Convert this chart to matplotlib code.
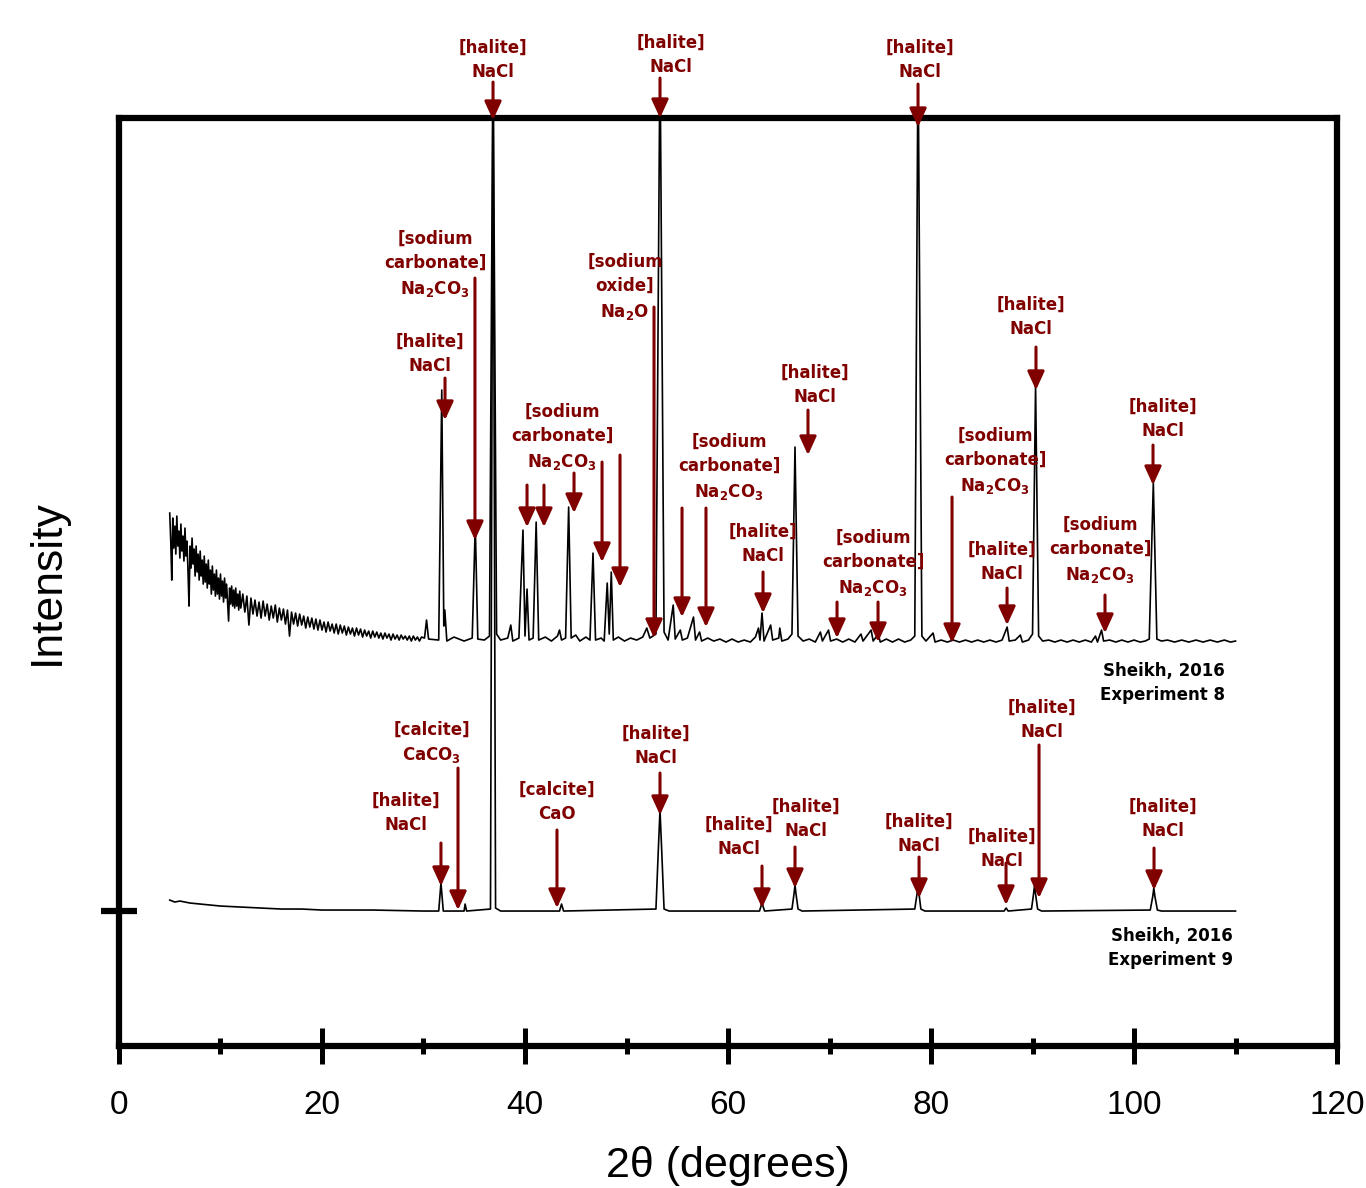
import matplotlib
matplotlib.use('Agg')
import matplotlib.pyplot as plt
from matplotlib.ticker import MultipleLocator

# XRD patterns (2theta in degrees, intensity in arbitrary units)
exp8_deg = [5.0, 5.1, 5.2, 5.3, 5.4, 5.5, 5.6, 5.7, 5.8, 5.9, 6.0, 6.1, 6.2, 6.3, 6.4, 6.5,
            6.6, 6.7, 6.8, 6.9, 7.0, 7.1, 7.2, 7.3, 7.4, 7.5, 7.6, 7.7, 7.8, 7.9, 8.0, 8.1,
            8.2, 8.3, 8.4, 8.5, 8.6, 8.7, 8.8, 8.9, 9.0, 9.1, 9.2, 9.3, 9.4, 9.5, 9.6, 9.7,
            9.8, 9.9, 10.0, 10.1, 10.2, 10.3, 10.4, 10.5, 10.6, 10.8, 10.9, 11.0, 11.1, 11.2,
            11.3, 11.4, 11.5, 11.6, 11.7, 11.8, 11.9, 12.0,
            12.2, 12.4, 12.6, 12.8, 13.0, 13.2, 13.4, 13.6, 13.8, 14.0, 14.2, 14.4, 14.6,
            14.8, 15.0, 15.2, 15.4, 15.6, 15.8, 16.0, 16.2, 16.4, 16.6, 16.8, 17.0, 17.2,
            17.4, 17.6, 17.8, 18.0, 18.2, 18.4, 18.6, 18.8, 19.0, 19.2, 19.4, 19.6, 19.8,
            20.0, 20.2, 20.4, 20.6, 20.8, 21.0, 21.2, 21.4, 21.6, 21.8, 22.0, 22.2, 22.4,
            22.6, 22.8, 23.0, 23.2, 23.4, 23.6, 23.8, 24.0, 24.2, 24.4, 24.6, 24.8, 25.0,
            25.2, 25.4, 25.6, 25.8, 26.0, 26.2, 26.4, 26.6, 26.8, 27.0, 27.2, 27.4, 27.6,
            27.8, 28.0, 28.2, 28.4, 28.6, 28.8, 29.0, 29.2, 29.4, 29.6, 29.8,
            30.1, 30.3, 30.5, 31.5, 31.8, 32.0, 32.1, 32.3, 33.0, 34.0, 34.8, 35.1, 35.35,
            36.0, 36.5, 36.85, 37.2, 37.6, 38.3, 38.6, 38.8, 39.4, 39.8, 40.0, 40.2, 40.4,
            40.8, 41.1, 41.35, 42.0, 42.6, 43.2, 43.4, 43.6, 44.0, 44.3, 44.55, 45.0, 45.4,
            46.0, 46.4, 46.7, 46.95, 47.5, 47.8, 48.1, 48.3, 48.5, 48.7, 49.2, 49.8, 50.4,
            51.0, 51.6, 52.0, 52.3, 52.9, 53.3, 53.7, 54.1, 54.6, 54.8, 55.3, 55.5, 56.0,
            56.6, 56.8, 57.2, 57.4, 58.0, 58.6, 59.2, 59.8, 60.4, 61.0, 61.6, 62.2, 62.7,
            63.0, 63.15, 63.35, 63.55, 64.2, 64.4, 65.0, 65.1, 65.3, 65.9, 66.3, 66.6, 66.9,
            67.4, 68.0, 68.6, 69.1, 69.3, 69.9, 70.1, 70.7, 71.3, 71.9, 72.5, 73.1, 73.3,
            74.1, 74.3, 74.8, 75.0, 75.6, 76.2, 76.8, 77.4, 78.0, 78.4, 78.72, 79.1, 79.5,
            80.2, 80.4, 81.0, 81.6, 82.2, 82.8, 83.4, 84.0, 84.6, 85.2, 85.8, 86.4, 87.0,
            87.5, 87.7, 88.3, 88.8, 89.0, 89.6, 90.0, 90.3, 90.6, 91.0, 91.6, 92.2, 92.8,
            93.4, 94.0, 94.6, 95.2, 95.8, 96.2, 96.4, 96.8, 97.0, 97.6, 98.2, 98.8, 99.4,
            100.0, 100.6, 101.1, 101.5, 101.9, 102.25, 102.7, 103.3, 104.0, 104.7, 105.4,
            106.1, 106.8, 107.5, 108.2, 108.9, 109.5, 110.0]
exp8_int = [533, 505, 466, 528, 498, 520, 492, 530, 500, 515, 488, 522, 495, 510, 485, 518,
            490, 505, 475, 440, 500, 478, 508, 482, 497, 470, 500, 474, 492, 466, 495, 470,
            486, 462, 490, 464, 482, 458, 486, 462, 476, 452, 480, 456, 472, 450, 476, 452,
            468, 447, 472, 450, 465, 444, 468, 448, 462, 425, 458, 442, 460, 440,
            456, 438, 458, 440, 452, 436, 455, 438,
            452, 434, 450, 421, 448, 432, 446, 430, 444, 428, 445, 430, 442,
            426, 440, 428, 441, 424, 438, 426, 437, 422, 436, 410, 434, 422,
            433, 420, 432, 421, 430, 418, 429, 419, 428, 417, 427, 416, 426,
            416, 424, 414, 424, 415, 422, 413, 422, 412, 421, 413, 420, 411,
            419, 412, 418, 410, 418, 411, 417, 409, 416, 410, 415, 408, 415,
            409, 414, 408, 413, 407, 413, 408, 412, 406, 412, 407, 411, 406,
            411, 407, 410, 406, 410, 405, 410, 406, 409, 405, 409,
            408, 426, 407, 406, 656, 420, 436, 405, 409, 405, 408, 521, 407,
            406, 410, 1000, 412, 406, 408, 421, 405, 408, 516, 410, 457, 406,
            408, 524, 406, 409, 405, 410, 416, 406, 408, 539, 408, 411, 405,
            409, 406, 493, 406, 408, 405, 463, 412, 474, 406, 409, 405, 408,
            406, 409, 418, 408, 412, 1000, 414, 406, 441, 407, 416, 406, 408,
            429, 406, 414, 405, 408, 405, 407, 404, 407, 404, 406, 404, 409,
            418, 406, 433, 405, 421, 406, 408, 418, 405, 407, 412, 599, 410,
            405, 407, 404, 414, 405, 416, 405, 407, 404, 407, 404, 412, 405,
            416, 405, 412, 404, 407, 404, 407, 404, 406, 410, 1000, 410, 405,
            413, 404, 406, 404, 406, 404, 406, 404, 406, 404, 406, 404, 406,
            419, 405, 406, 411, 404, 406, 412, 661, 410, 405, 406, 404, 406,
            404, 406, 404, 406, 404, 410, 404, 416, 405, 406, 404, 406, 404,
            406, 404, 405, 407, 563, 407, 405, 406, 404, 406, 404,
            406, 404, 406, 404, 406, 404, 405]

exp9_deg = [5.0, 5.5, 6.0, 7.0, 8.0, 9.0, 10.0, 12.0, 14.0, 16.0, 18.0, 20.0, 25.0, 30.0,
            31.5, 31.72, 31.95, 33.0, 34.0, 34.1, 34.25, 36.6, 36.85, 37.1, 37.6,
            43.4, 43.6, 43.8, 52.9, 53.15, 53.3, 53.45, 53.7, 54.2, 63.1, 63.35, 63.6,
            66.3, 66.5, 66.6, 66.7, 66.9, 67.3, 78.4, 78.62, 78.72, 78.82, 79.0, 79.4,
            87.2, 87.4, 87.6, 89.9, 90.1, 90.2, 90.3, 90.5, 90.9,
            101.6, 101.85, 101.95, 102.05, 102.3, 102.7, 110.0]
exp9_int = [146, 144, 145, 143, 142, 141, 140, 139, 138, 137, 137, 136, 136, 135,
            135, 163, 135, 135, 135, 142, 135, 137, 1000, 138, 135,
            135, 142, 135, 137, 200, 236, 200, 137, 135, 135, 143, 135,
            137, 152, 161, 152, 137, 135, 137, 152, 161, 152, 137, 135,
            135, 138, 135, 137, 152, 161, 152, 137, 135,
            136, 150, 158, 150, 136, 135, 135]

# phase labels: text, label centre (deg, intensity), arrows (deg, tail, tip)
NACL = '[halite]\nNaCl'
NA2CO3 = '[sodium\ncarbonate]\nNa$_\\mathbf{2}$CO$_\\mathbf{3}$'
labels = [
    (NACL, 36.85, 986, [(36.85, 964, 926)]),
    (NACL, 54.38, 991, [(53.30, 968, 928)]),
    (NACL, 78.92, 986, [(78.72, 962, 919)]),
    (NA2CO3, 31.13, 782, [(35.07, 768, 506)]),
    (NACL, 30.64, 692, [(32.12, 668, 626)]),
    ('[sodium\noxide]\nNa$_\\mathbf{2}$O', 49.85, 759, [(52.71, 739, 408)]),
    (NA2CO3, 43.65, 609, [(40.20, 561, 519), (41.87, 561, 519), (44.83, 573, 533),
                          (47.59, 584, 484), (49.36, 591, 459)]),
    (NA2CO3, 60.10, 579, [(55.47, 538, 429), (57.83, 538, 419)]),
    (NACL, 63.45, 502, [(63.45, 474, 433)]),
    (NACL, 68.57, 661, [(67.88, 636, 591)]),
    (NA2CO3, 74.29, 483, [(70.74, 444, 408), (74.78, 444, 404)]),
    (NA2CO3, 86.31, 585, [(82.07, 549, 403)]),
    (NACL, 87.00, 484, [(87.49, 458, 421)]),
    (NACL, 89.85, 729, [(90.34, 699, 656)]),
    (NA2CO3, 96.65, 496, [(97.14, 451, 413)]),
    (NACL, 102.86, 627, [(101.87, 601, 561)]),
    ('[calcite]\nCaCO$_\\mathbf{3}$', 30.84, 303, [(33.40, 278, 136)]),
    (NACL, 28.28, 233, [(31.72, 203, 160)]),
    ('[calcite]\nCaO', 43.15, 244, [(43.15, 216, 138)]),
    (NACL, 52.91, 300, [(53.30, 273, 231)]),
    (NACL, 61.08, 209, [(63.35, 180, 138)]),
    (NACL, 67.68, 227, [(66.60, 199, 158)]),
    (NACL, 78.82, 212, [(78.82, 189, 148)]),
    (NACL, 87.00, 197, [(87.39, 183, 141)]),
    (NACL, 90.94, 326, [(90.64, 301, 148)]),
    (NACL, 102.86, 227, [(101.97, 198, 156)]),
]

red = '#800000'
plt.rcParams['font.family'] = ['Liberation Sans', 'DejaVu Sans']

fig = plt.figure(figsize=(13.66, 11.88), dpi=100)
ax = fig.add_axes([0.0871, 0.1195, 0.8917, 0.7811])

ax.plot(exp8_deg, exp8_int, color='black', lw=1.2)
ax.plot(exp9_deg, exp9_int, color='black', lw=1.2)

for text, lx, ly, arrows in labels:
    ax.text(lx, ly, text, color=red, fontsize=12, fontweight='bold', family='DejaVu Sans',
            ha='center', va='center', linespacing=1.45, clip_on=False)
    for ax_x, tail, tip in arrows:
        ax.annotate('', xy=(ax_x, tip), xytext=(ax_x, tail), annotation_clip=False,
                    arrowprops=dict(arrowstyle='-|>,head_length=0.7,head_width=0.32',
                                    color=red, lw=2.2, shrinkA=0, shrinkB=0,
                                    mutation_scale=16))

ax.text(108.97, 363, 'Sheikh, 2016\nExperiment 8', ha='right', va='center', fontsize=12,
        fontweight='bold', family='DejaVu Sans', linespacing=1.45)
ax.text(109.75, 98, 'Sheikh, 2016\nExperiment 9', ha='right', va='center', fontsize=12,
        fontweight='bold', family='DejaVu Sans', linespacing=1.45)

ax.set_xlim(0, 120)
ax.set_ylim(0, 928)
ax.xaxis.set_major_locator(MultipleLocator(20))
ax.xaxis.set_minor_locator(MultipleLocator(10))
ax.set_yticks([135])
ax.set_yticklabels([])
ax.tick_params(axis='x', which='major', direction='inout', length=26, width=3.6,
               labelsize=24, pad=19)
ax.tick_params(axis='x', which='minor', direction='inout', length=12, width=3.6)
ax.tick_params(axis='y', direction='inout', length=26, width=4.5)
for s in ax.spines.values():
    s.set_linewidth(4.5)

ax.set_xlabel('2θ (degrees)', fontsize=31, labelpad=18)
ax.set_ylabel('Intensity', fontsize=32, labelpad=20)

fig.savefig('out.png', dpi=100)
